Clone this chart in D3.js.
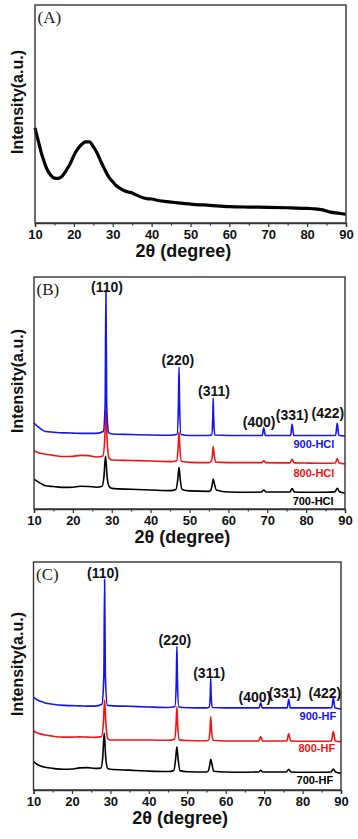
<!DOCTYPE html>
<html><head><meta charset="utf-8">
<script src="https://cdn.jsdelivr.net/npm/d3@7"></script>
<style>body{margin:0;background:#fff}svg{display:block}</style>
</head><body><svg id="c" width="358" height="839"></svg>
<script>
// ---------------- DATA ----------------
const xTicks = [10,20,30,40,50,60,70,80,90];
const xMinorTicks = [15,25,35,45,55,65,75,85];
const peakLabels = ["(110)","(220)","(311)","(400)","(331)","(422)"];
const panelLetters = ["(A)","(B)","(C)"];
const seriesNamesB = ["900-HCl","800-HCl","700-HCl"];
const seriesNamesC = ["900-HF","800-HF","700-HF"];

// Panel A: amorphous precursor
const thetaA = [10,10.5,11,11.5,12,13,14,15,16,17,18,19,20,21,22,23,24,25,26,27,28,29,30,31,32,33,34,35,36,37,38,39,40,42,44,46,48,50,55,60,65,70,75,80,82,84,86,88,90];
const intA   = [43.6,40,36.5,33,30,25,22,20.6,20.5,21.5,24,27,31,34,36,37.2,37.2,35,32,28,24.3,21,18.9,17,15.8,14.8,14.2,13.8,12.9,12.1,11.5,11.1,11,10.2,9.8,9.4,9.0,8.7,8.1,7.5,7.3,7.2,7.0,6.7,6.5,6.0,5.0,4.5,4.0];

// Panel B (HCl)
const theta700 = [10,11,12,13,15,18,20,22,24,26,27.5,28.0,28.4,28.8,29.3,30,35,40,45,46.5,47.0,47.3,47.6,48.1,50,55,55.5,55.9,56.1,56.4,56.9,60,65,68.5,69.1,69.7,75.8,76.4,77.0,80,85,87.4,88.0,88.6,90];
const theta800 = [10,11,12,13,15,18,20,22,24,26,27.7,28.2,28.5,28.8,29.3,30,35,40,45,46.7,47.1,47.3,47.5,47.9,50,55,55.6,55.95,56.1,56.3,56.7,60,65,68.6,69.1,69.6,75.9,76.4,76.9,80,85,87.5,88.0,88.5,90];
const theta900 = [10,11,12,13,15,18,20,22,24,26,27.8,28.3,28.5,28.7,29.2,30,35,40,45,46.8,47.15,47.3,47.45,47.8,50,55,55.7,56.0,56.1,56.2,56.5,60,65,68.7,69.1,69.5,76.0,76.4,76.8,80,85,87.6,88.0,88.4,90];

const intB700 = [12.9,11.8,10.8,10,9.7,9.3,9.4,9.8,9.7,9.4,9.8,14,22.8,14,9.8,8.9,8.5,8.2,7.9,8.4,13,18,13,8.4,7.8,7.6,8.2,11,12.9,11,8.2,7.3,7.2,7.3,8.2,7.3,7.3,8.8,7.3,7.2,7.2,7.4,8.9,7.4,6.8];
const intB800 = [25.1,24.4,23.9,23.6,23.1,22.6,22.7,23.1,23.0,22.4,22.8,30,43.5,30,22,21.1,20.9,20.7,20.4,20.8,27,33.3,27,20.6,20.1,20,20.4,24,26.9,24,20.2,20,20,20,20.8,20,19.9,21.4,19.9,19.8,19.7,19.8,21.7,19.8,19.4];
const intB900 = [37.1,35.5,34.2,33.4,33.1,32.8,32.7,32.6,32.6,32.6,33.4,45,94.4,45,33,32.3,32.1,31.9,31.8,32.2,45,61.2,45,32.1,31.7,31.7,32,40,47.8,40,31.9,31.7,31.7,31.7,35,31.7,31.7,36.6,31.7,31.7,31.7,31.8,37.1,31.8,31.5];

// Panel C (HF)
const intC700 = [12.4,11.2,10.4,10,9.5,9.1,9.2,9.7,9.8,9.5,9.6,14,25,14,9.5,9.1,8.7,8.3,8.1,8.6,14,19,14,8.5,8,7.9,8.4,11.5,13.5,11.5,8.2,7.9,7.8,7.9,8.6,7.9,7.9,9.1,7.9,7.8,7.8,7.9,9.2,7.9,7.3];
const intC800 = [26,25,24.5,24.1,23.6,23.2,23.2,23.3,23.2,23.1,23.4,30,39.5,30,22.6,21.9,21.9,21.9,21.8,22.3,29,36.5,29,22,21.7,21.6,22,27,32.1,27,21.8,21.5,21.5,21.5,23.4,21.5,21.5,24.6,21.5,21.4,21.4,21.5,25.6,21.5,21.2];
const intC900 = [40.7,39.5,38.8,38.2,37.6,37.1,37,36.9,36.8,36.8,37.6,50,92.4,50,37.2,37,36.7,36.4,36.2,36.6,48,62.9,48,36.4,36.1,36,36.3,42,49,42,36.2,36,36,36,38.3,36,36,39.8,36,36,36,36.1,40.5,36.1,35.5];

// ---------------- LAYOUT / STYLE ----------------
const colors = {"900":"#1414f0","800":"#f01414","700":"#000000"};
const panels = [
  {left:35, right:346, top:5, bottom:223, letter:0,
   series:[{x:thetaA, y:intA, c:"#000", w:3.2}],
   peakPos:null, names:null},
  {left:34, right:345, top:277, bottom:509, letter:1,
   series:[{x:theta700,y:intB700,c:colors["700"],w:1.6},{x:theta800,y:intB800,c:colors["800"],w:1.6},{x:theta900,y:intB900,c:colors["900"],w:1.6}],
   peakPos:[[28.8,95.7],[47.0,64.2],[56.3,50.9],[67.9,37.5],[76.4,40.5],[85.6,41.4]],
   names:seriesNamesB, namePos:[[82.0,28],[82.0,15.5],[81.8,3.4]]},
  {left:33.5, right:341, top:562, bottom:790, letter:2,
   series:[{x:theta700,y:intC700,c:colors["700"],w:1.6},{x:theta800,y:intC800,c:colors["800"],w:1.6},{x:theta900,y:intC900,c:colors["900"],w:1.6}],
   peakPos:[[28.1,95.2],[46.8,65.8],[55.7,51.3],[67.6,40.8],[75.4,42.5],[85.8,42.5]],
   names:seriesNamesC, namePos:[[84.0,32.5],[83.7,18.4],[83.2,4.4]]}
];
const nameColors = [colors["900"], colors["800"], colors["700"]];

const svg = d3.select("#c");
const sans = "'Liberation Sans', Arial, sans-serif";

panels.forEach(p => {
  const x = d3.scaleLinear().domain([10,90]).range([p.left, p.right]);
  const y = d3.scaleLinear().domain([0,100]).range([p.bottom, p.top]);
  const g = svg.append("g");

  const line = d3.line().x(d=>x(d[0])).y(d=>y(d[1])).curve(d3.curveMonotoneX);
  p.series.forEach(s => {
    g.append("path").datum(d3.zip(s.x, s.y)).attr("d", line)
      .attr("fill","none").attr("stroke", s.c).attr("stroke-width", s.w)
      .attr("stroke-linejoin","round");
  });

  // frame
  g.append("rect").attr("x",p.left).attr("y",p.top)
    .attr("width",p.right-p.left).attr("height",p.bottom-p.top)
    .attr("fill","none").attr("stroke","#333").attr("stroke-width",1.4);

  // axis
  const ax = g.append("g").attr("transform",`translate(0,${p.bottom})`)
    .call(d3.axisBottom(x).tickValues(xTicks).tickSize(4).tickPadding(3).tickFormat(d3.format("d")));
  ax.select(".domain").attr("stroke","#333").attr("stroke-width",1.4);
  ax.selectAll(".tick line").attr("stroke","#333").attr("stroke-width",1.2);
  ax.selectAll(".tick text").attr("font-family",sans).attr("font-weight","bold")
    .attr("font-size",13).attr("fill","#111");
  const axm = g.append("g").attr("transform",`translate(0,${p.bottom})`)
    .call(d3.axisBottom(x).tickValues(xMinorTicks).tickSize(2.5).tickFormat(""));
  axm.select(".domain").remove();
  axm.selectAll(".tick line").attr("stroke","#333").attr("stroke-width",1.2);

  // x title
  g.append("text").attr("x",(p.left+p.right)/2-7).attr("y",p.bottom+34)
    .attr("text-anchor","middle").attr("font-family",sans).attr("font-weight","bold")
    .attr("font-size",18).attr("fill","#111").text("2θ (degree)");

  // y title
  const cy = (p.top+p.bottom)/2 - 12;
  g.append("text").attr("transform",`translate(23,${cy}) rotate(-90)`)
    .attr("text-anchor","middle").attr("font-family",sans).attr("font-weight","bold")
    .attr("font-size",16).attr("fill","#111").text("Intensity(a.u.)");

  // panel letter
  g.append("text").attr("x",p.left+2.5).attr("y",p.top+18)
    .attr("font-family","'Liberation Serif', 'Times New Roman', serif")
    .attr("font-size",17).attr("fill","#222").text(panelLetters[p.letter]);

  if (p.peakPos) {
    p.peakPos.forEach((pp,i) => {
      g.append("text").attr("x",x(pp[0])).attr("y",y(pp[1]))
        .attr("text-anchor","middle").attr("dominant-baseline","central")
        .attr("font-family",sans).attr("font-weight","bold").attr("font-size",14)
        .attr("fill","#111").text(peakLabels[i]);
    });
    p.names.forEach((n,i) => {
      g.append("text").attr("x",x(p.namePos[i][0])).attr("y",y(p.namePos[i][1]))
        .attr("text-anchor","middle").attr("dominant-baseline","central")
        .attr("font-family",sans).attr("font-weight","bold").attr("font-size",11)
        .attr("fill",nameColors[i]).text(n);
    });
  }
});
</script>
</body></html>
